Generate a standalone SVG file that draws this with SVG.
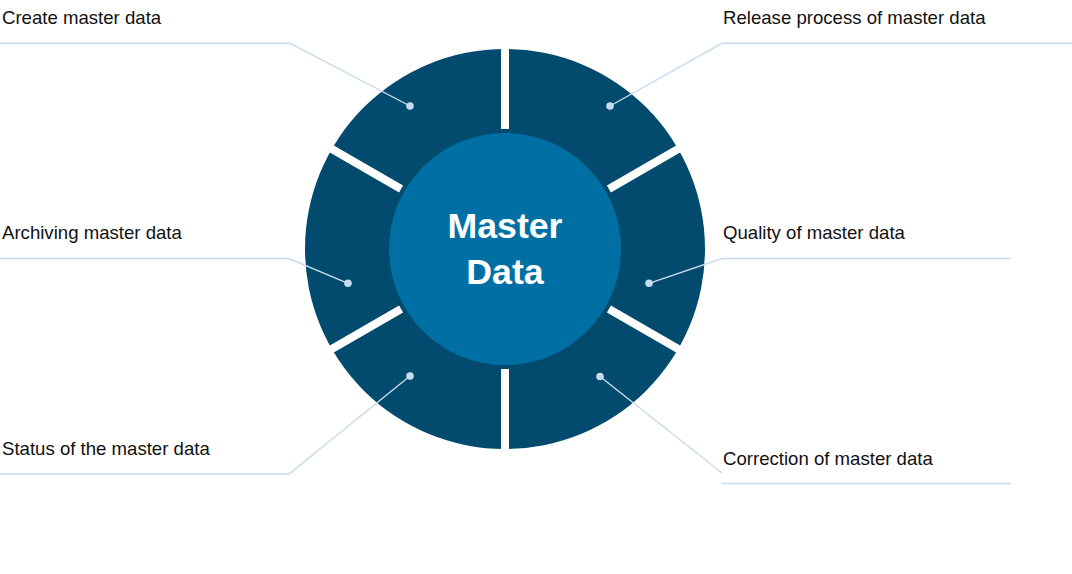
<svg xmlns="http://www.w3.org/2000/svg" width="1072" height="574" viewBox="0 0 1072 574">
<style>
.lbl{font-family:"Liberation Sans",Arial,sans-serif;font-size:18.6px;fill:#111}
.ctr{font-family:"Liberation Sans",Arial,sans-serif;font-size:35.7px;font-weight:bold;fill:#fff;text-anchor:middle}
.conn{fill:none;stroke:#c6dbee;stroke-width:1.4}
.dot{fill:#c6dbee}
.gap{stroke:#fff;stroke-width:8;stroke-linecap:butt}
</style>
<rect width="1072" height="574" fill="#fff"/>
<g id="ring">
<circle cx="505" cy="249" r="200" fill="#034b6e"/>
<line class="gap" x1="505" y1="129" x2="505" y2="44"/>
<line class="gap" x1="608.9" y1="189" x2="682.5" y2="146.5"/>
<line class="gap" x1="608.9" y1="309" x2="682.5" y2="351.5"/>
<line class="gap" x1="505" y1="369" x2="505" y2="454"/>
<line class="gap" x1="401.1" y1="309" x2="327.5" y2="351.5"/>
<line class="gap" x1="401.1" y1="189" x2="327.5" y2="146.5"/>
</g>
<g id="center">
<circle cx="505" cy="249" r="116" fill="#0070a4"/>
<text class="ctr" x="505" y="238">Master</text>
<text class="ctr" x="505" y="283.5">Data</text>
</g>
<g id="connectors">
<polyline class="conn" points="0,43.3 290,43.3 410,106"/>
<polyline class="conn" points="0,258.5 289,258.5 348,283.3"/>
<polyline class="conn" points="0,474 289,474 410,376"/>
<polyline class="conn" points="1072,43.3 722,43.3 610,106"/>
<polyline class="conn" points="1010.5,258.5 722,258.5 649,283.3"/>
<polyline class="conn" points="600,376.5 722,473"/>
<line class="conn" x1="722" y1="483.5" x2="1010.5" y2="483.5"/>
<circle class="dot" cx="410" cy="106" r="3.8"/>
<circle class="dot" cx="348" cy="283.3" r="3.8"/>
<circle class="dot" cx="410" cy="376" r="3.8"/>
<circle class="dot" cx="610" cy="106" r="3.8"/>
<circle class="dot" cx="649" cy="283.3" r="3.8"/>
<circle class="dot" cx="600" cy="376.5" r="3.8"/>
</g>
<g id="label-create"><text class="lbl" x="2" y="24">Create master data</text></g>
<g id="label-archiving"><text class="lbl" x="2" y="239">Archiving master data</text></g>
<g id="label-status"><text class="lbl" x="2" y="455">Status of the master data</text></g>
<g id="label-release"><text class="lbl" x="723" y="24">Release process of master data</text></g>
<g id="label-quality"><text class="lbl" x="723" y="239">Quality of master data</text></g>
<g id="label-correction"><text class="lbl" x="723" y="464.5">Correction of master data</text></g>
</svg>
